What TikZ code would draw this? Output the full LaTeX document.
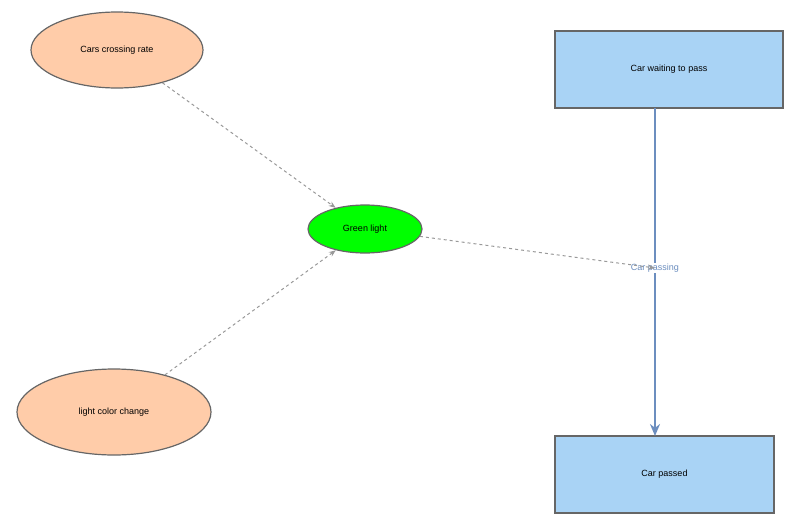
\documentclass[tikz,border=0pt]{standalone}
\usepackage{fontspec}
\setmainfont{Liberation Sans}
\usetikzlibrary{shapes.geometric,arrows.meta}
\begin{document}
\begin{tikzpicture}[x=1pt,y=-1pt,
  ell/.style={ellipse,draw=black!60,line width=1.2pt,inner sep=0pt,font=\small},
  box/.style={rectangle,draw=black!60,line width=1.2pt,fill=boxblue,inner sep=0pt,font=\small},
  dashconn/.style={draw=black!40,dashed,line width=1pt,-{Stealth[length=7pt]}}]
\definecolor{peach}{HTML}{FFCCA9}
\definecolor{boxblue}{HTML}{A9D3F5}
\definecolor{flow}{HTML}{6C8EBF}
\useasboundingbox (0,0) rectangle (800,525);
\node[ell,fill=peach,minimum width=172pt,minimum height=76pt] (ccr) at (117,50) {Cars crossing rate};
\node[ell,fill=green,minimum width=114pt,minimum height=48pt] (gl) at (365,229) {Green light};
\node[ell,fill=peach,minimum width=194pt,minimum height=86pt] (lcc) at (114,412) {light color change};
\node[box,minimum width=228pt,minimum height=77pt] (wait) at (669,69.5) {Car waiting to pass};
\node[box,minimum width=219pt,minimum height=77pt] (passed) at (664.5,474.5) {Car passed};
\coordinate (top) at (655,108);
\coordinate (bot) at (655,436);
\draw[flow,line width=2.5pt,-{Stealth[length=12pt,width=10pt]}] (top) -- (bot);
\node[fill=white,inner sep=1pt,text=flow,font=\small] (lbl) at (655,268) {Car passing};
\draw[dashconn] (ccr) -- (gl);
\draw[dashconn] (lcc) -- (gl);
\draw[dashconn] (gl) -- (lbl.center);
\end{tikzpicture}
\end{document}
